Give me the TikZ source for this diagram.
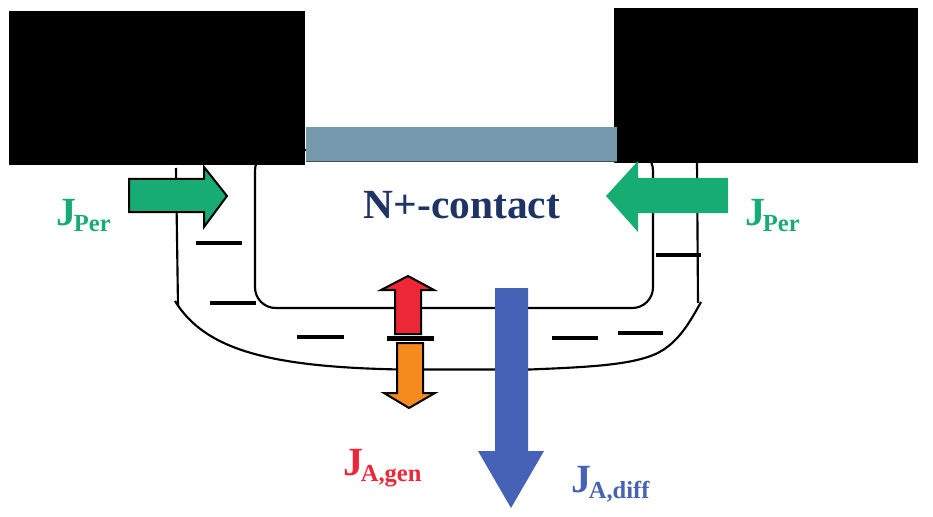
\documentclass[tikz,border=0pt]{standalone}
\usepackage{fontspec}
\setmainfont{Liberation Serif}
\usetikzlibrary{positioning}

\definecolor{perGreen}{HTML}{17AC74}
\definecolor{genRed}{HTML}{EE2737}
\definecolor{genOrange}{HTML}{F58A1F}
\definecolor{diffBlue}{HTML}{4662B6}
\definecolor{contactNavy}{HTML}{1F3464}
\definecolor{metalGrey}{HTML}{7498AC}

% big J with a lowered subscript
\newcommand{\currentlabel}[1]{%
	{\fontsize{30}{30}\selectfont J}%
	\kern-1.8pt\lower 4.5pt\hbox{\fontsize{18.4}{18.4}\selectfont #1}%
}

\begin{document}
\begin{tikzpicture}
[
	x								= 0.75pt,
	y								= -0.75pt,
	%
	electrode/.style				= {fill = black},
	wellline/.style					= {draw = black, line width = 1.6pt},
	carrier/.style					= {draw = black, line width = 3pt},
	%
	% block arrows
	outlined/.style					= {draw = black, line width = 1.5pt, miter limit = 10},
	%
	% J labels
	jlabel/.style					=
	{
		inner sep					= 0pt,
		anchor						= base west,
		font						= \bfseries
	},
]
	\useasboundingbox (0,0) rectangle (933,517);

	% contact and well outline
	\draw [wellline, rounded corners = 15.5pt] (255,150) -- (255,308) -- (653,308) -- (653,150) -- cycle;
	\draw [wellline] (176,168) -- (178,306);
	\draw [wellline] (697,160) -- (698,303);
	\draw [wellline] (175,301) .. controls (205,350) and (270,367) .. (400,369.5) -- (530,369.5)
		.. controls (590,367) and (640,365) .. (663,350) .. controls (680,339) and (690,322) .. (701,302);

	% electrodes
	\fill [electrode] (9,11) rectangle (305,165);
	\fill [electrode] (614,8) rectangle (918,163);
	\fill [metalGrey] (306,127) rectangle (617,161.5);
	\draw [black!70, line width = 0.5pt] (306,161.5) -- (617,161.5);

	% carriers
	\draw [carrier] (196,243) -- (242,243);
	\draw [carrier] (210,302.5) -- (256,302.5);
	\draw [carrier] (297,336.5) -- (344,336.5);
	\draw [carrier] (552,338) -- (598,338);
	\draw [carrier] (618,332.5) -- (663,332.5);
	\draw [carrier] (656,255) -- (701,255);

	% block arrows
	\draw [outlined, fill = perGreen] (129,179) -- (204,179) -- (204,167) -- (227,196) -- (204,227) -- (204,212) -- (129,212) -- cycle;
	\fill [perGreen] (728,178) -- (638,178) -- (638,161) -- (606,196) -- (638,232) -- (638,213) -- (728,213) -- cycle;
	\draw [outlined, fill = genRed] (395,334) -- (395,290) -- (381,290) -- (408,276) -- (434,290) -- (421,290) -- (421,334) -- cycle;
	\draw [outlined, fill = genOrange] (397,343) -- (397,393) -- (384,393) -- (409,408) -- (435,393) -- (423,393) -- (423,343) -- cycle;
	\draw [black, line width = 3.6pt] (387,338.5) -- (434,338.5);
	\fill [diffBlue] (495,288) -- (528,288) -- (528,451) -- (544,451) -- (511,508) -- (478,451) -- (495,451) -- cycle;

	% labels
	\node (contact) [inner sep = 0pt, text = contactNavy, font = \bfseries\fontsize{31.1}{31.1}\selectfont] at (462,205) {N+-contact};
	\node (perleft) [jlabel, text = perGreen] at (56,225) {\currentlabel{Per}};
	\node (perright) [jlabel, text = perGreen] at (745,225) {\currentlabel{Per}};
	\node (agen) [jlabel, text = genRed] at (343,475) {\currentlabel{A,gen}};
	\node (adiff) [jlabel, text = diffBlue] at (571,492) {\currentlabel{A,diff}};

\end{tikzpicture}
\end{document}
